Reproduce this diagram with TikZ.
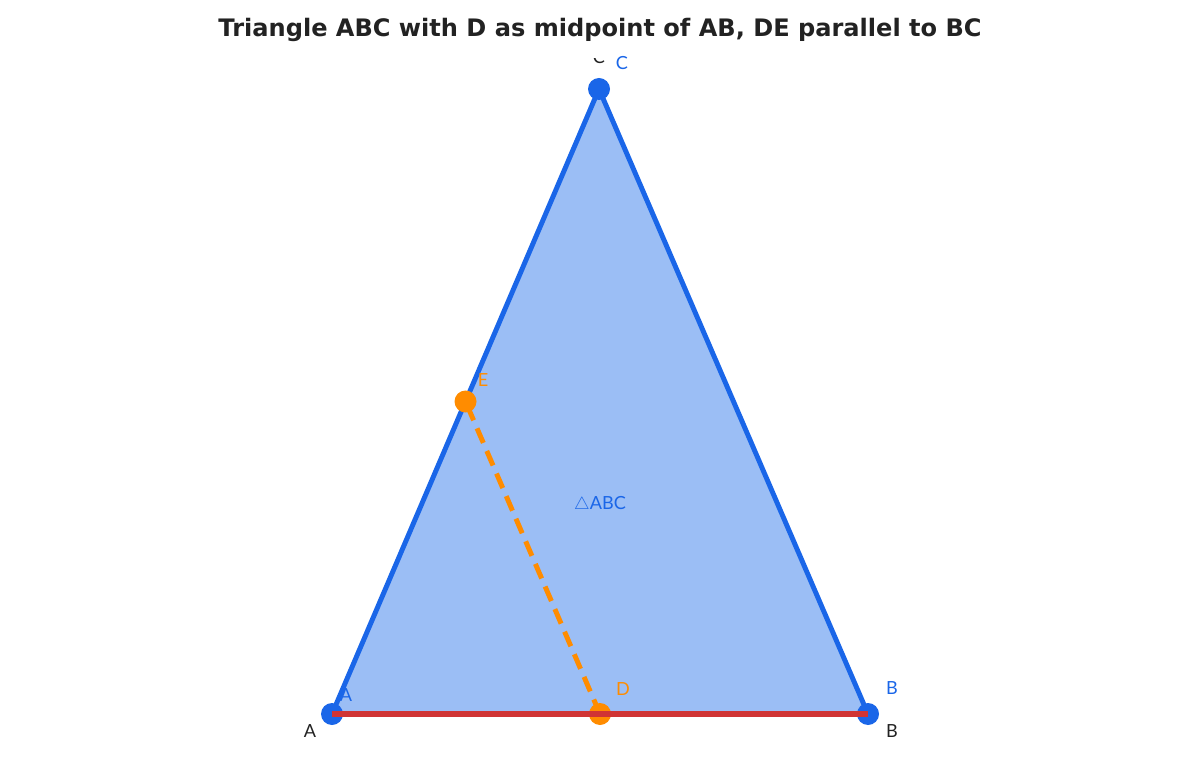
\documentclass[tikz,border=0pt]{standalone}
\usepackage{fontspec}
\setmainfont{Lato}
\newfontfamily\headfont{DejaVu Sans}
\usepackage{tikz}
\usetikzlibrary{calc}

\definecolor{edgeblue}{HTML}{1A66E8}
\definecolor{fillblue}{HTML}{9BBEF5}
\definecolor{ptorange}{HTML}{FF8C00}
\definecolor{segred}{HTML}{D03434}
\definecolor{inkgray}{HTML}{222222}

\begin{document}
\begin{tikzpicture}[x=0.02cm,y=-0.02cm]
    \tikzstyle{vertex}=[circle,fill=edgeblue,inner sep=0pt,minimum size=22*0.02cm]
    \tikzstyle{midpt}=[circle,fill=ptorange,inner sep=0pt,minimum size=22*0.02cm]
    \tikzstyle{lbl}=[font=\fontsize{10.3}{12}\selectfont,inner sep=0pt]
    \useasboundingbox (0,0) rectangle (1200,763);
    \node[font=\headfont\bfseries\fontsize{13.7}{16}\selectfont,text=inkgray] (title) at (600,30) {Triangle ABC with D as midpoint of AB, DE parallel to BC};
    % points of the triangle
    \coordinate (a) at (332,714);
    \coordinate (b) at (868,714);
    \coordinate (c) at (599,89);
    \coordinate (d) at ($(a)!0.5!(b)$);
    \coordinate (e) at ($(a)!0.5!(c)$);
    \filldraw[fill=fillblue,draw=edgeblue,line width=2.8pt,line join=round] (a) -- (b) -- (c) -- cycle;
    \draw[ptorange,line width=2.8pt,dash pattern=on 9pt off 5pt] (d) -- (e);
    \node[lbl,text=edgeblue] (tri) at (600,505) {$\triangle$ABC};
    % black names, C one cut by the title band
    \begin{scope}
      \clip (500,59) rectangle (700,80);
      \node[lbl,text=inkgray] (cname) at (599,57) {C};
    \end{scope}
    \node[lbl,text=inkgray] (aname) at (310,731) {A};
    \node[lbl,text=inkgray] (bname) at (892,731) {B};
    % dots
    \node[vertex] (va) at (a) {};
    \node[vertex] (vb) at (b) {};
    \node[vertex] (vc) at (c) {};
    \node[midpt] (vd) at (d) {};
    \node[midpt] (ve) at (e) {};
    \draw[segred,line width=3pt] (va.center) -- (vb.center);
    % coloured labels
    \node[lbl,text=edgeblue] (la) at (346,695) {A};
    \node[lbl,text=edgeblue] (lb) at (892,688) {B};
    \node[lbl,text=edgeblue] (lc) at (622,63) {C};
    \node[lbl,text=ptorange] (ld) at (623,689) {D};
    \node[lbl,text=ptorange] (le) at (483,380) {E};
\end{tikzpicture}
\end{document}
